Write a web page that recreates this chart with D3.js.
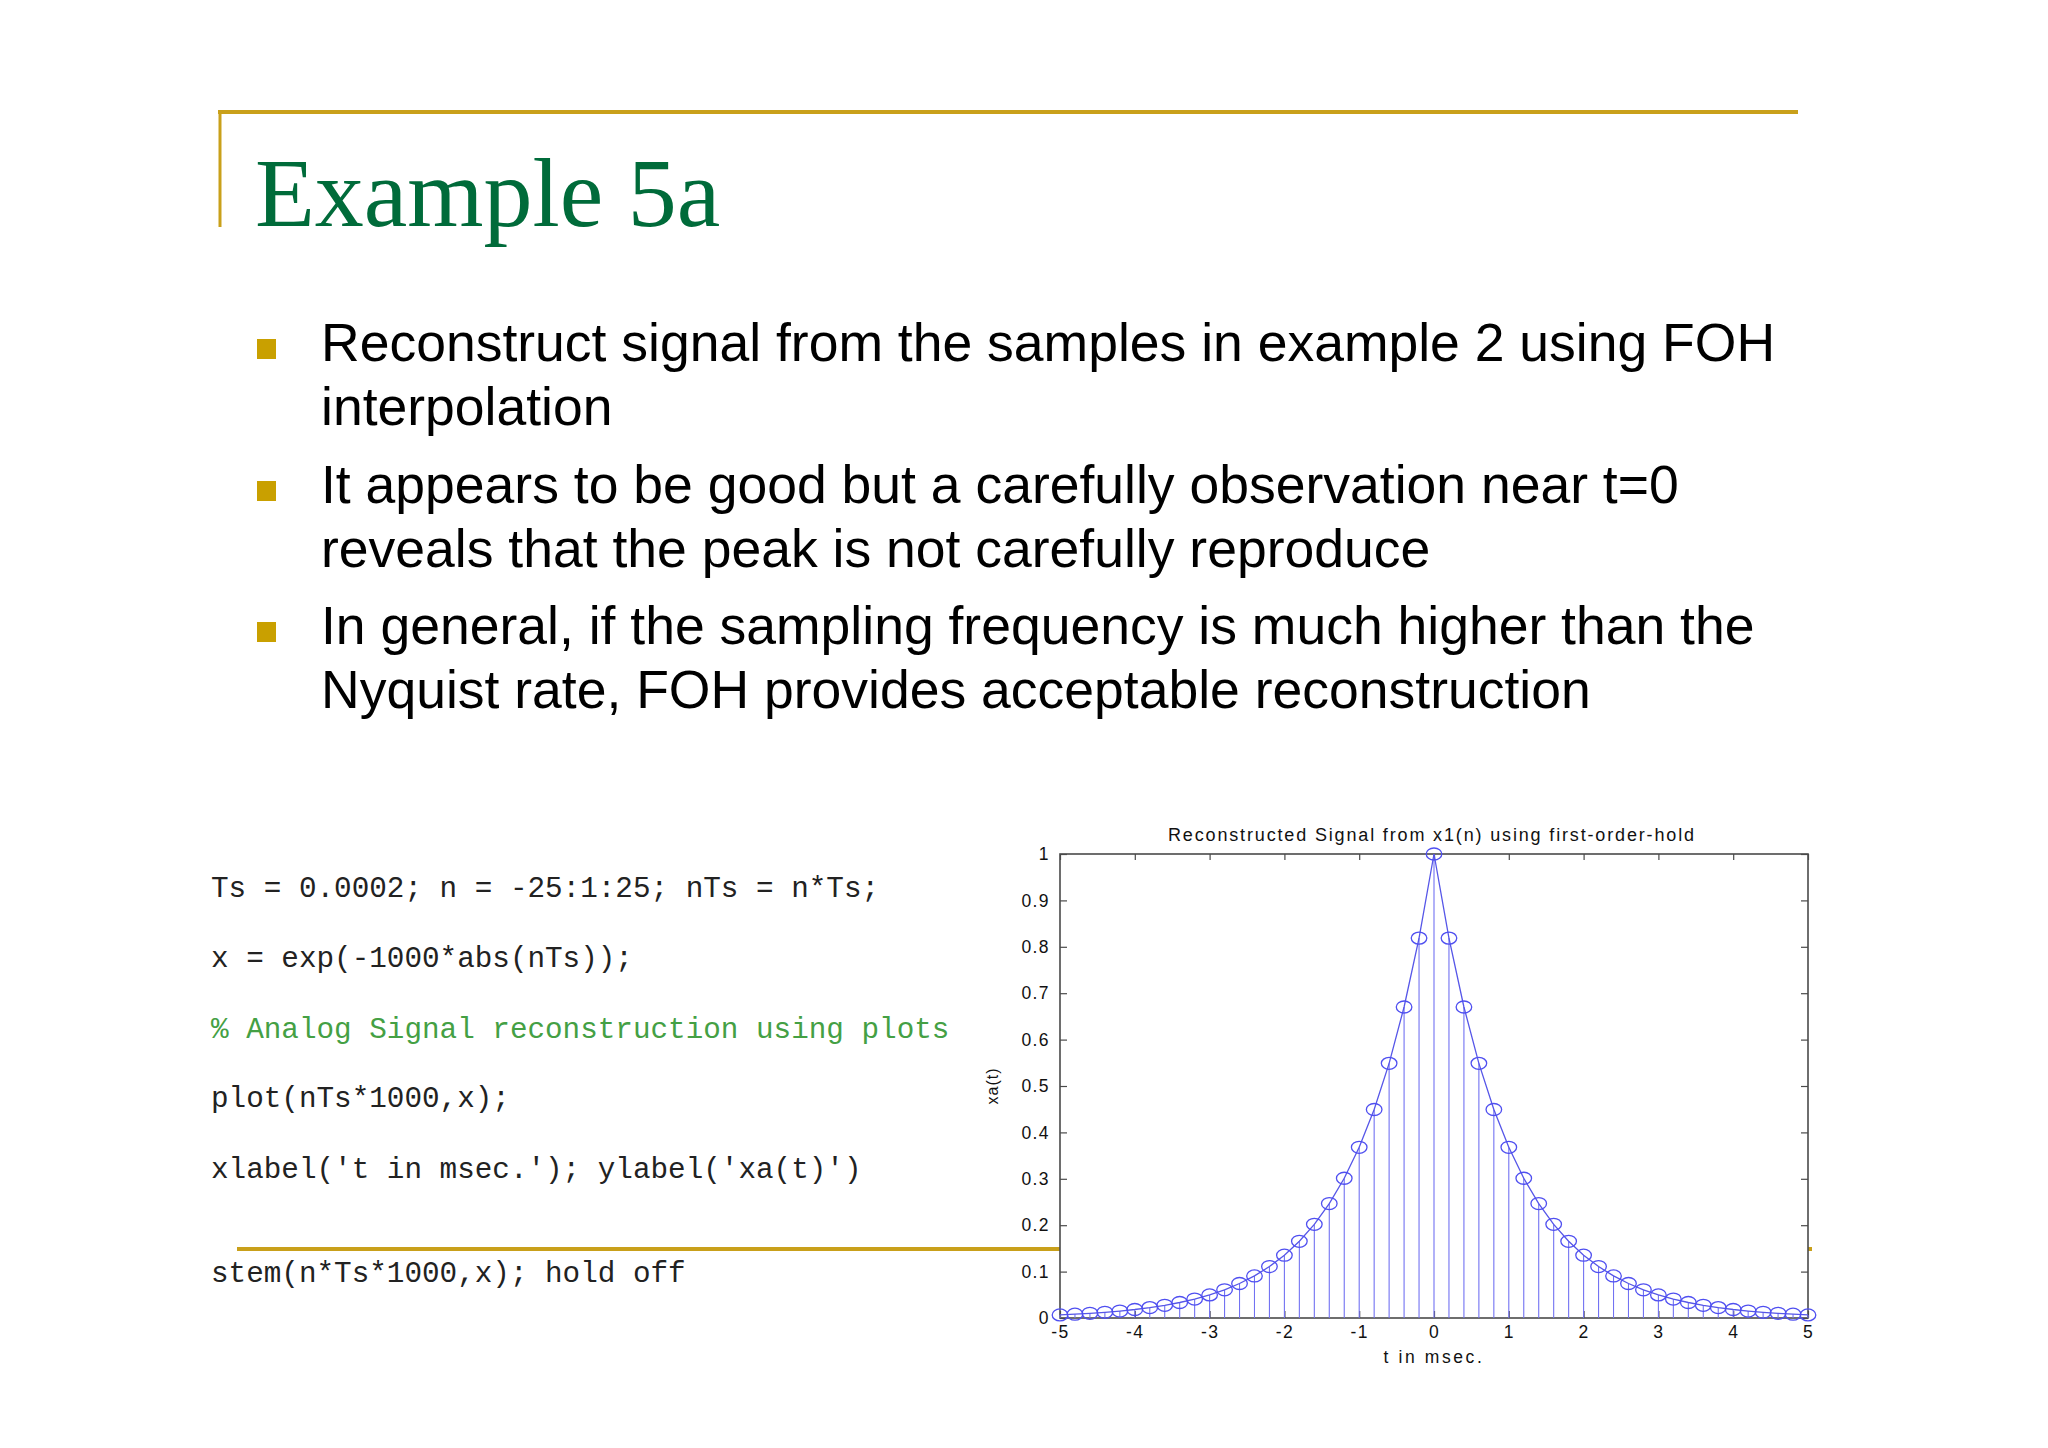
<!DOCTYPE html>
<html>
<head>
<meta charset="utf-8">
<script src="https://cdn.jsdelivr.net/npm/d3@7/dist/d3.min.js"></script>
<style>
  html, body { margin: 0; padding: 0; background: #ffffff; }
  svg { display: block; }
</style>
</head>
<body>
<svg id="slide" width="2048" height="1448"></svg>
<script>
// ---------- data ----------
const slideTitle = "Example 5a";
const bullets = [
  ["Reconstruct signal from the samples in example 2 using FOH", "interpolation"],
  ["It appears to be good but a carefully observation near t=0", "reveals that the peak is not carefully reproduce"],
  ["In general, if the sampling frequency is much higher than the", "Nyquist rate, FOH provides acceptable reconstruction"]
];
const codeLines = [
  { text: "Ts = 0.0002; n = -25:1:25; nTs = n*Ts;", comment: false },
  { text: "x = exp(-1000*abs(nTs));", comment: false },
  { text: "% Analog Signal reconstruction using plots", comment: true },
  { text: "plot(nTs*1000,x);", comment: false },
  { text: "xlabel('t in msec.'); ylabel('xa(t)')", comment: false },
  { text: "stem(n*Ts*1000,x); hold off", comment: false }
];
const chartTitle = "Reconstructed Signal from x1(n) using first-order-hold";
const xLabel = "t in msec.";
const yLabel = "xa(t)";

// sample times (msec) and sample values
const tValues = [-5.0,-4.8,-4.6,-4.4,-4.2,-4.0,-3.8,-3.6,-3.4,-3.2,-3.0,-2.8,-2.6,-2.4,-2.2,-2.0,-1.8,-1.6,-1.4,-1.2,-1.0,-0.8,-0.6,-0.4,-0.2,
                 0.0,0.2,0.4,0.6,0.8,1.0,1.2,1.4,1.6,1.8,2.0,2.2,2.4,2.6,2.8,3.0,3.2,3.4,3.6,3.8,4.0,4.2,4.4,4.6,4.8,5.0];
const xValues = [0.0067,0.0082,0.0101,0.0123,0.0150,0.0183,0.0224,0.0273,0.0334,0.0408,0.0498,0.0608,0.0743,0.0907,0.1108,0.1353,0.1653,0.2019,0.2466,0.3012,0.3679,0.4493,0.5488,0.6703,0.8187,
                 1.0000,0.8187,0.6703,0.5488,0.4493,0.3679,0.3012,0.2466,0.2019,0.1653,0.1353,0.1108,0.0907,0.0743,0.0608,0.0498,0.0408,0.0334,0.0273,0.0224,0.0183,0.0150,0.0123,0.0101,0.0082,0.0067];

const xTicks = [-5,-4,-3,-2,-1,0,1,2,3,4,5];
const xTickLabels = ["-5","-4","-3","-2","-1","0","1","2","3","4","5"];
const yTicks = [0,0.1,0.2,0.3,0.4,0.5,0.6,0.7,0.8,0.9,1];
const yTickLabels = ["0","0.1","0.2","0.3","0.4","0.5","0.6","0.7","0.8","0.9","1"];

// ---------- drawing ----------
const GOLD = "#c9a01a";
const svg = d3.select("#slide");
svg.append("rect").attr("width", 2048).attr("height", 1448).attr("fill", "#ffffff");

// decorative gold frame lines
svg.append("line").attr("x1", 218).attr("x2", 1798).attr("y1", 112).attr("y2", 112)
  .attr("stroke", GOLD).attr("stroke-width", 4);
svg.append("line").attr("x1", 220).attr("x2", 220).attr("y1", 110).attr("y2", 227)
  .attr("stroke", GOLD).attr("stroke-width", 3);

// slide title
svg.append("text").attr("x", 255).attr("y", 226)
  .attr("font-family", "'Liberation Serif', 'Times New Roman', serif")
  .attr("font-size", 98).attr("fill", "#006b3a")
  .text(slideTitle);

// bullets
const bulletTop = [361, 503, 644];
const lineGap = 63.5;
bullets.forEach((lines, i) => {
  svg.append("rect").attr("x", 257).attr("y", bulletTop[i] - 22).attr("width", 19).attr("height", 20)
    .attr("fill", "#c9a000");
  lines.forEach((ln, j) => {
    svg.append("text").attr("x", 321).attr("y", bulletTop[i] + j * lineGap)
      .attr("font-family", "'Liberation Sans', Arial, sans-serif")
      .attr("font-size", 53.5).attr("fill", "#000")
      .text(ln);
  });
});

// code block
const codeY = [897, 967, 1038, 1107, 1178, 1282];
codeLines.forEach((c, i) => {
  svg.append("text").attr("x", 211).attr("y", codeY[i])
    .attr("font-family", "'Liberation Mono', 'Courier New', monospace")
    .attr("font-size", 29.3)
    .attr("fill", c.comment ? "#44a044" : "#222")
    .style("white-space", "pre")
    .text(c.text);
});

// lower gold line (covered by the plot area)
svg.append("line").attr("x1", 237).attr("x2", 1812).attr("y1", 1249).attr("y2", 1249)
  .attr("stroke", GOLD).attr("stroke-width", 4);

// ---------- plot ----------
const L = 1060, R = 1808, T = 854, B = 1318;
const x = d3.scaleLinear().domain([-5, 5]).range([L, R]);
const y = d3.scaleLinear().domain([0, 1]).range([B, T]);

svg.append("rect").attr("x", L).attr("y", T).attr("width", R - L).attr("height", B - T)
  .attr("fill", "#ffffff");

const tickFont = "'Liberation Sans', Arial, sans-serif";
const AX = "#4a4a4a";

function styleAxis(g, showLabels) {
  g.select(".domain").remove();
  g.selectAll(".tick line").attr("stroke", AX).attr("stroke-width", 1.2);
  g.selectAll(".tick text")
    .attr("font-family", tickFont).attr("font-size", 17.5).attr("fill", "#111")
    .attr("letter-spacing", 1.4)
    .style("display", showLabels ? null : "none");
}

svg.append("g").attr("transform", `translate(0,${B})`)
  .call(d3.axisBottom(x).tickValues(xTicks).tickFormat((d, i) => xTickLabels[i]).tickSize(-7).tickPadding(8))
  .call(g => styleAxis(g, true));
svg.append("g").attr("transform", `translate(0,${T})`)
  .call(d3.axisTop(x).tickValues(xTicks).tickSize(-6))
  .call(g => styleAxis(g, false));
svg.append("g").attr("transform", `translate(${L},0)`)
  .call(d3.axisLeft(y).tickValues(yTicks).tickFormat((d, i) => yTickLabels[i]).tickSize(-7).tickPadding(10))
  .call(g => styleAxis(g, true));
svg.append("g").attr("transform", `translate(${R},0)`)
  .call(d3.axisRight(y).tickValues(yTicks).tickSize(-7))
  .call(g => styleAxis(g, false));

// box
svg.append("rect").attr("x", L).attr("y", T).attr("width", R - L).attr("height", B - T)
  .attr("fill", "none").attr("stroke", AX).attr("stroke-width", 1.6);

const pts = tValues.map((t, i) => ({ t, v: xValues[i] }));

// stems
svg.append("g").selectAll("line").data(pts).join("line")
  .attr("x1", d => x(d.t)).attr("x2", d => x(d.t))
  .attr("y1", y(0)).attr("y2", d => y(d.v))
  .attr("stroke", "#7272f2").attr("stroke-width", 1.1);

// first-order-hold line
svg.append("path").datum(pts)
  .attr("d", d3.line().x(d => x(d.t)).y(d => y(d.v)))
  .attr("fill", "none").attr("stroke", "#5656e8").attr("stroke-width", 1.3);

// stem markers (slightly wide ellipses, as in the exported figure)
svg.append("g").selectAll("ellipse").data(pts).join("ellipse")
  .attr("cx", d => x(d.t)).attr("cy", d => y(d.v)).attr("rx", 7.8).attr("ry", 6)
  .attr("fill", "none").attr("stroke", "#4f4ff0").attr("stroke-width", 1.3);

// chart title and axis labels
svg.append("text").attr("x", (L + R) / 2 - 3).attr("y", 841)
  .attr("text-anchor", "middle")
  .attr("font-family", tickFont).attr("font-size", 18).attr("fill", "#111")
  .attr("textLength", 526).attr("lengthAdjust", "spacing")
  .text(chartTitle);

svg.append("text").attr("x", (L + R) / 2).attr("y", 1363)
  .attr("text-anchor", "middle")
  .attr("font-family", tickFont).attr("font-size", 17.5).attr("fill", "#111")
  .attr("letter-spacing", 2.6)
  .text(xLabel);

svg.append("text").attr("transform", `translate(998,${(T + B) / 2}) rotate(-90)`)
  .attr("text-anchor", "middle")
  .attr("font-family", tickFont).attr("font-size", 16).attr("fill", "#111")
  .attr("letter-spacing", 1)
  .text(yLabel);
</script>
</body>
</html>
